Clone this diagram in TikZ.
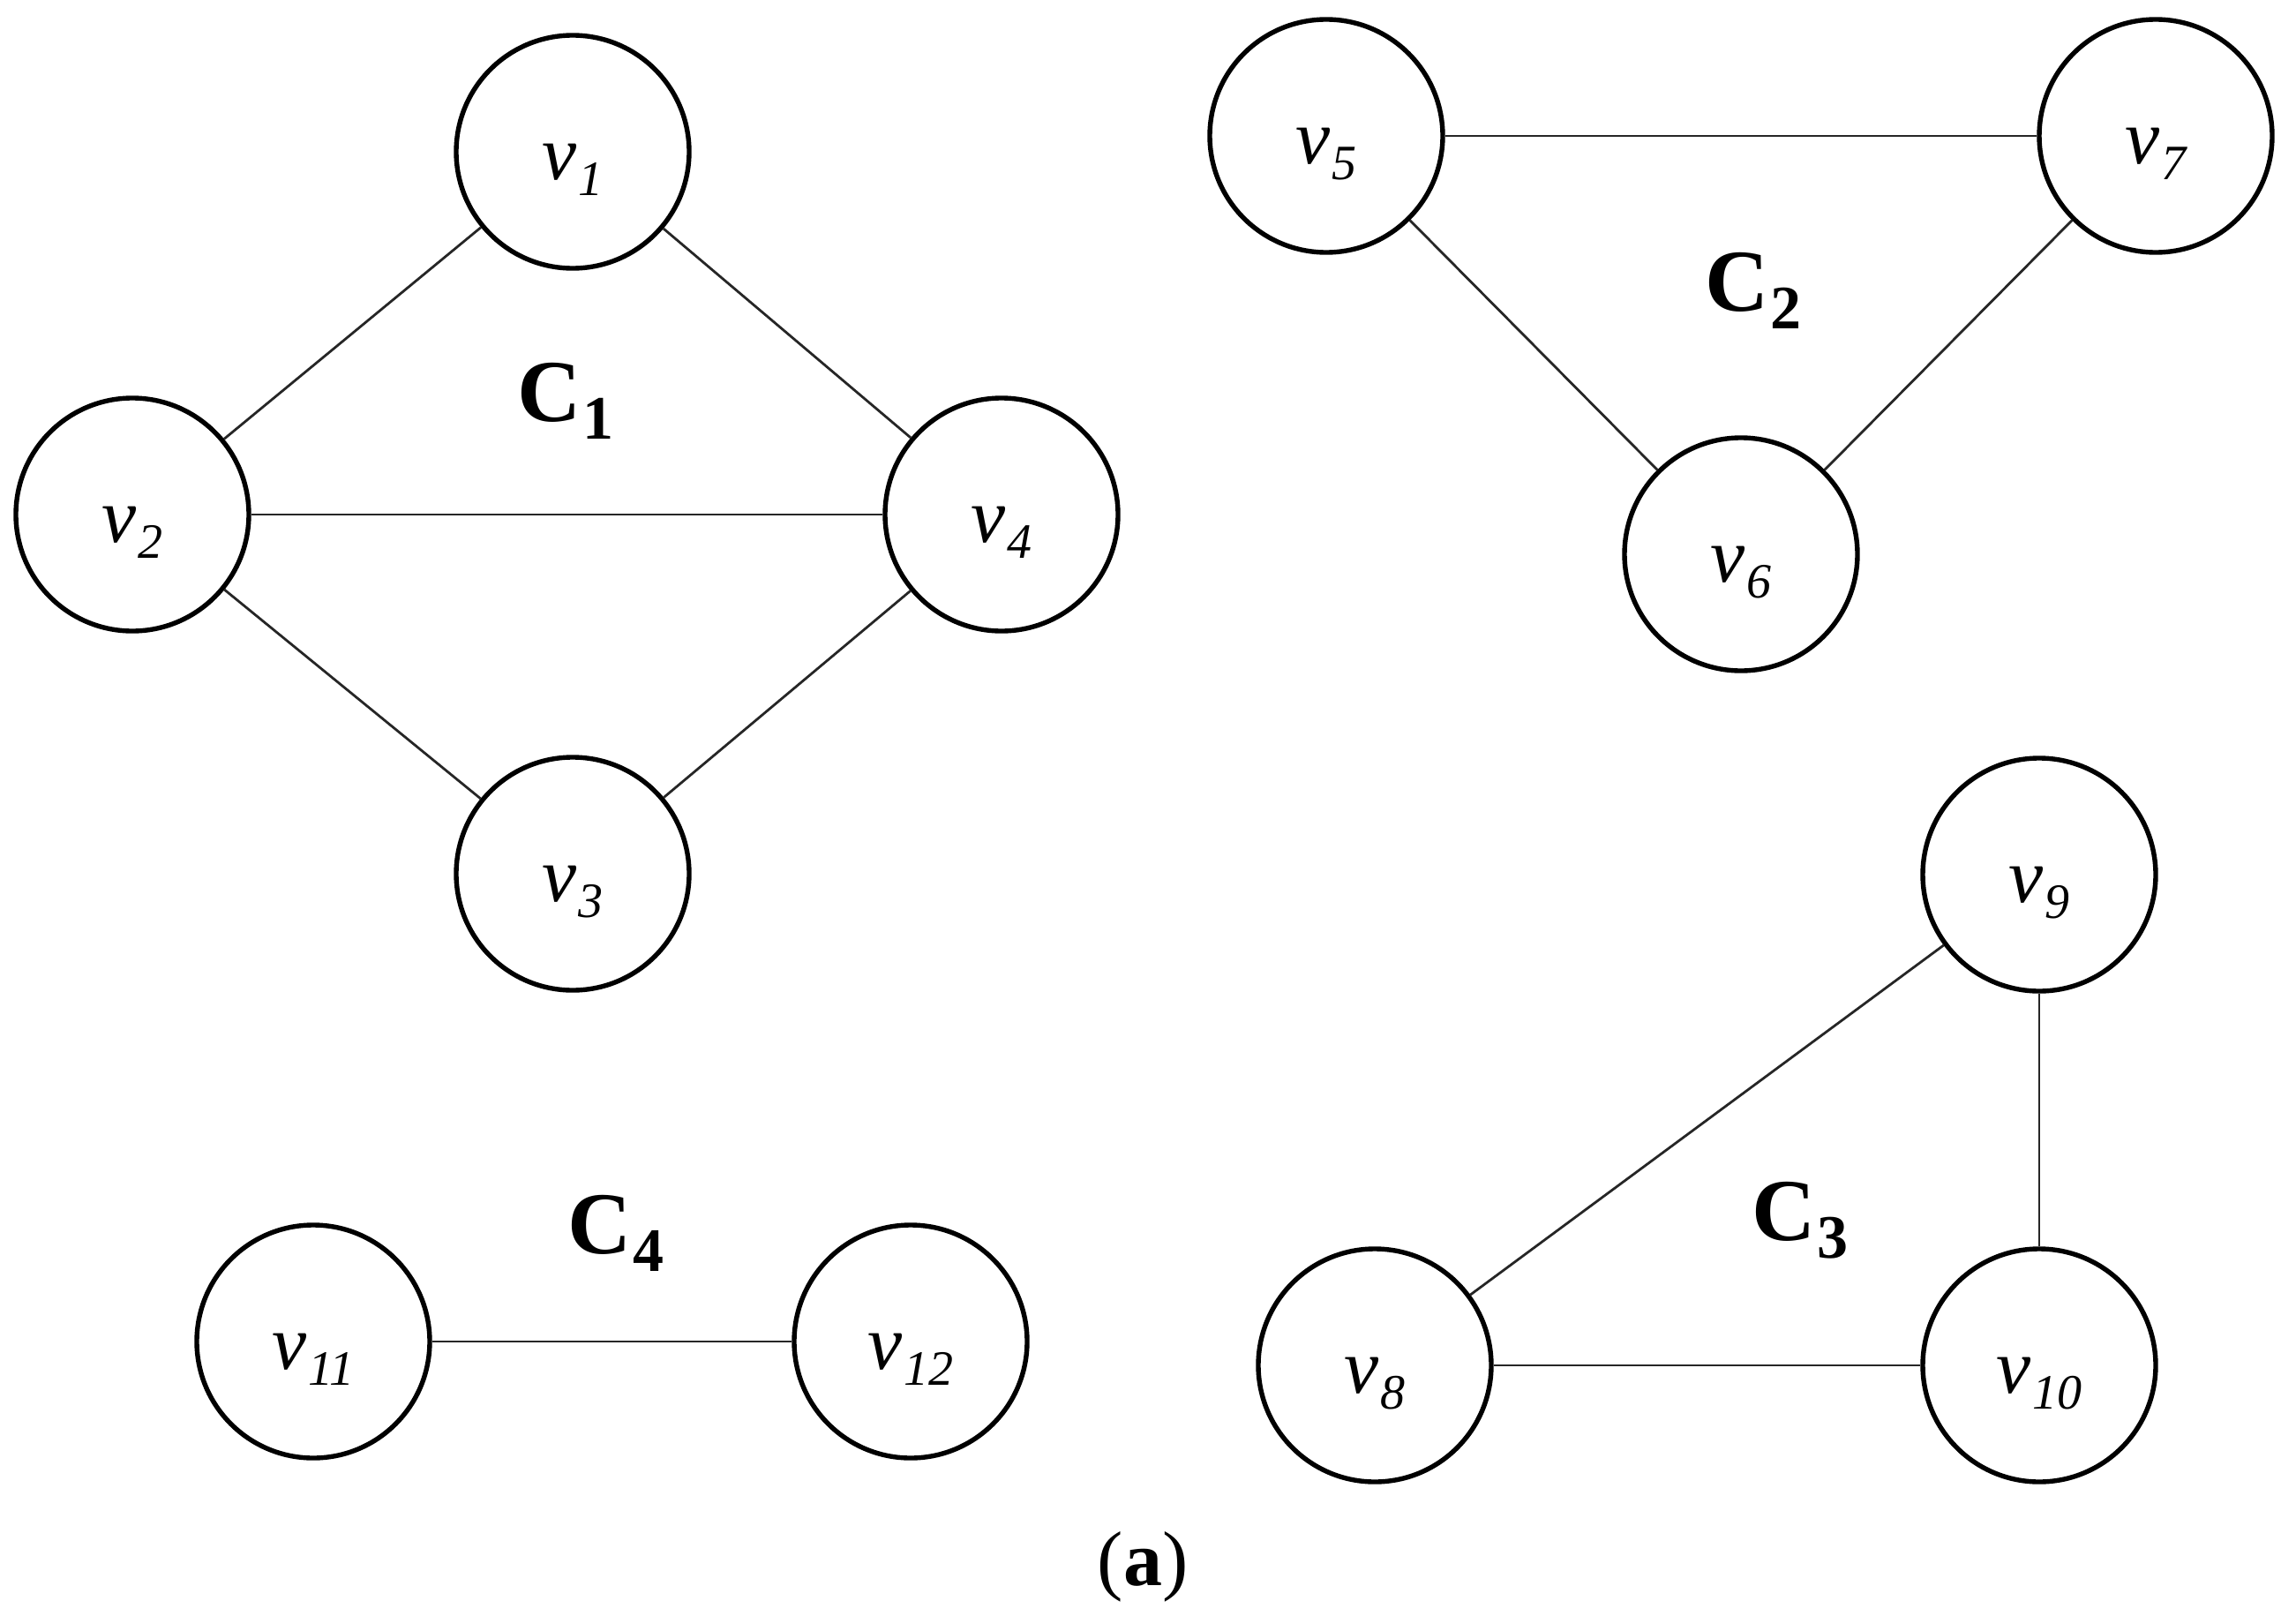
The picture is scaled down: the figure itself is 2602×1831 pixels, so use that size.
\documentclass[tikz,border=0pt]{standalone}
\usepackage{fontspec}
\setmainfont{Liberation Serif}
\newcommand\vlab[1]{{\fontsize{22}{22}\selectfont\itshape v\kern0.3pt\raisebox{-4.5pt}{\fontsize{14}{14}\selectfont #1}}}
\newcommand\clab[1]{{\fontsize{25}{25}\selectfont\bfseries C\kern0.5pt\raisebox{-5pt}{\fontsize{17.5}{17.5}\selectfont #1}}}
\tikzset{
  vert/.style={circle, draw=black, line width=1.35pt, minimum size=66pt, inner sep=0pt,
               text height=15.5pt, text depth=0pt},
  edge/.style={draw=black!85, line width=0.7pt},
  clabel/.style={anchor=base, inner sep=0pt}
}
\begin{document}
\begin{tikzpicture}[x=0.25pt, y=-0.25pt]
\useasboundingbox (0,0) rectangle (2602,1831);
% C1
\node[vert] (v1) at (649,172) {\vlab{1}};
\node[vert] (v2) at (150,583) {\vlab{2}};
\node[vert] (v4) at (1135,583) {\vlab{4}};
\node[vert] (v3) at (649,990) {\vlab{3}};
\node[clabel] (c1) at (641,477) {\clab{1}};
% C2
\node[vert] (v5) at (1503,154) {\vlab{5}};
\node[vert] (v7) at (2443,154) {\vlab{7}};
\node[vert] (v6) at (1973,628) {\vlab{6}};
\node[clabel] (c2) at (1987,352) {\clab{2}};
% C3
\node[vert] (v9) at (2311,991) {\vlab{9}};
\node[vert] (v8) at (1558,1547) {\vlab{8}};
\node[vert] (v10) at (2311,1547) {\vlab{10}};
\node[clabel] (c3) at (2040,1405) {\clab{3}};
% C4
\node[vert] (v11) at (355,1520) {\vlab{11}};
\node[vert] (v12) at (1032,1520) {\vlab{12}};
\node[clabel] (c4) at (698,1420) {\clab{4}};
% caption
\node[anchor=base, inner sep=0pt] (cap) at (1295,1796) {\fontsize{22}{22}\selectfont(\textbf{a})};
% edges
\draw[edge] (v1) -- (v2);
\draw[edge] (v1) -- (v4);
\draw[edge] (v2) -- (v4);
\draw[edge] (v2) -- (v3);
\draw[edge] (v4) -- (v3);
\draw[edge] (v5) -- (v7);
\draw[edge] (v5) -- (v6);
\draw[edge] (v7) -- (v6);
\draw[edge] (v9) -- (v8);
\draw[edge] (v9) -- (v10);
\draw[edge] (v8) -- (v10);
\draw[edge] (v11) -- (v12);
\end{tikzpicture}
\end{document}
